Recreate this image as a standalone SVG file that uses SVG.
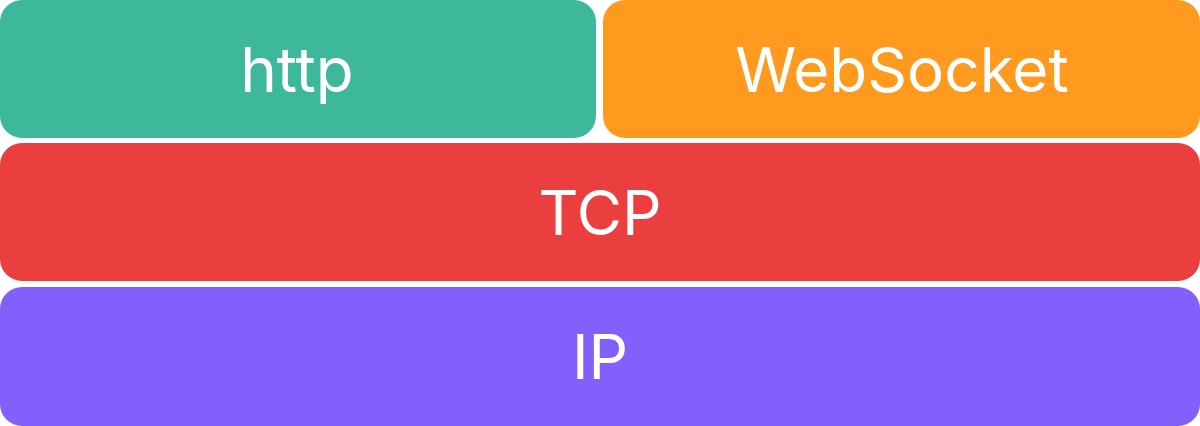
<svg xmlns="http://www.w3.org/2000/svg" width="1200" height="426" viewBox="0 0 1200 426">
<style>
.t{font-family:Inter,"Open Sans","Liberation Sans",sans-serif;font-size:62px;fill:#fff;text-anchor:middle;dominant-baseline:central}
</style>
<rect width="1200" height="426" fill="#fff"/>
<g id="http"><rect x="0" y="0" width="596" height="138" rx="22" fill="#3DB89B"/><text class="t" x="297" y="69">http</text></g>
<g id="websocket"><rect x="603" y="0" width="597" height="138" rx="22" fill="#FF9A1F"/><text class="t" x="902" y="69">WebSocket</text></g>
<g id="tcp"><rect x="0" y="143" width="1200" height="138" rx="22" fill="#EB3E3F"/><text class="t" x="600" y="212">TCP</text></g>
<g id="ip"><rect x="0" y="287" width="1200" height="139" rx="22" fill="#8360FB"/><text class="t" x="600" y="356">IP</text></g>
<g id="connectors"/>
</svg>
